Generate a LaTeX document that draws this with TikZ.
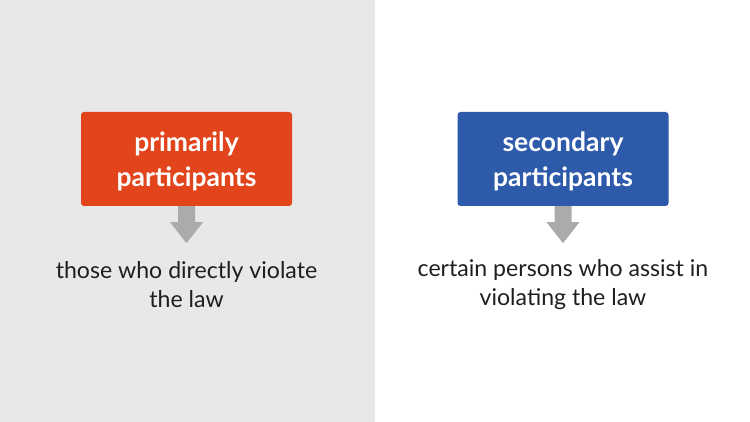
\documentclass[tikz,border=0pt]{standalone}
\usepackage{fontspec}
\setmainfont{Lato}
\definecolor{bgray}{HTML}{E8E8E8}
\definecolor{orng}{HTML}{E2441C}
\definecolor{blu}{HTML}{2E5AAA}
\definecolor{arrgray}{HTML}{ABABAB}
\definecolor{txt}{HTML}{1E1E1E}
\tikzset{
  x=1pt, y=-1pt,
  box/.style={rounded corners=3pt, inner sep=0pt, minimum width=211pt, minimum height=94pt,
    text=white, font=\fontsize{26.5}{35}\selectfont\bfseries, align=center},
  desc/.style={text=txt, font=\fontsize{23.1}{28.5}\selectfont, align=center, inner sep=0pt},
  downarrow/.style={fill=arrgray, draw=none}
}
\begin{document}
\begin{tikzpicture}
\useasboundingbox (0,0) rectangle (750,422);
\fill[bgray] (0,0) rectangle (375,422);
\node[box, fill=orng] (p) at (186.5,159) {};
\node[box, fill=blu] (s) at (563,159) {};
\node[box, text=white] (pt) at (186.5,161) {primarily\\participants};
\node[box, text=white] (st) at (563,161) {secondary\\participants};
% arrows
\fill[downarrow] ([xshift=-8.5pt]p.south) -- ([xshift=8.5pt]p.south) -- ++(0,16) -- ++(8,0) -- ([yshift=-37pt]p.south) -- ([xshift=-16.5pt,yshift=-16pt]p.south) -- ([xshift=-8.5pt,yshift=-16pt]p.south) -- cycle;
\fill[downarrow] ([xshift=-8.5pt]s.south) -- ([xshift=8.5pt]s.south) -- ++(0,16) -- ++(8,0) -- ([yshift=-37pt]s.south) -- ([xshift=-16.5pt,yshift=-16pt]s.south) -- ([xshift=-8.5pt,yshift=-16pt]s.south) -- cycle;
\node[desc] (pd) at (186.5,284.5) {those who directly violate\\the law};
\node[desc] (sd) at (563,284.5) {certain persons who assist in\\violating the law};
\end{tikzpicture}
\end{document}
